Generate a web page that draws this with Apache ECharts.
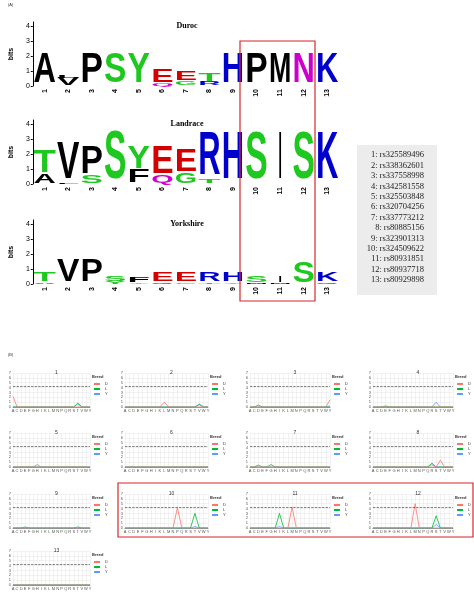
<!DOCTYPE html>
<html><head><meta charset="utf-8">
<script src="https://cdn.jsdelivr.net/npm/echarts@6/dist/echarts.min.js"></script>
<style>html,body{margin:0;padding:0;background:#fff}#main{width:474px;height:595px}</style>
</head><body><div id="main"></div>
<script>
// positions of the logos and the SNP list
var positions = ['1','2','3','4','5','6','7','8','9','10','11','12','13'];
var snpIds = ['rs325589496','rs338362601','rs337558998','rs342581558','rs325503848','rs320704256',
  'rs337773212','rs80885156','rs323901313','rs324509622','rs80931851','rs80937718','rs80929898'];
var breeds = ['Duroc', 'Landrace', 'Yorkshire'];
// letter stacks per position, bottom to top: [letter, bits]
var durocLogo = [
  [['A',2.0]], [['V',0.5],['L',0.15]], [['P',2.0]], [['S',2.0]], [['Y',2.0]],
  [['Q',0.15],['E',0.85]], [['G',0.3],['E',0.6]], [['R',0.3],['T',0.5]], [['H',2.0]],
  [['P',2.0]], [['M',2.0]], [['N',2.0]], [['K',2.0]]
];
var landraceLogo = [
  [['A',0.6],['T',1.5]], [['L',0.1],['V',2.5]], [['S',0.5],['P',1.9]], [['S',3.3]], [['F',0.9],['Y',1.5]],
  [['Q',0.5],['E',1.9]], [['G',0.7],['E',1.5]], [['T',0.3],['R',2.9]], [['H',3.2]],
  [['S',3.2]], [['I',3.2]], [['S',3.2]], [['K',3.2]]
];
var yorkshireLogo = [
  [['A',0.1],['T',0.6]], [['V',1.5]], [['P',1.5]], [['Y',0.15],['S',0.35]], [['Y',0.1],['F',0.35]],
  [['Q',0.1],['E',0.6]], [['G',0.1],['E',0.6]], [['T',0.1],['R',0.6]], [['Y',0.1],['H',0.6]],
  [['M',0.1],['S',0.45]], [['M',0.1],['I',0.45]], [['S',1.4]], [['Q',0.1],['K',0.6]]
];
var letterColor = {A:'#000',V:'#000',L:'#000',P:'#000',M:'#000',F:'#000',I:'#000',
  S:'#1ec81e',Y:'#1ec81e',T:'#1ec81e',G:'#1ec81e',E:'#d40000',R:'#0000cc',H:'#0000cc',K:'#0000cc',
  N:'#cc00cc',Q:'#cc00cc'};

// panel B: amino acids and per-SNP curves (D, L, Y)
var aminoAcids = ['A','C','D','E','F','G','H','I','K','L','M','N','P','Q','R','S','T','V','W','Y'];
var panelD = [
  [2.2,0,0,0,0,0,0,0,0,0,0,0,0,0,0,0,0,0,0,0],
  [0,0,0,0,0,0,0,0,0,1.0,0,0,0,0,0,0,0,0,0,0],
  [0,0,0,0,0,0,0,0,0,0,0,0,0,0,0,0,0,0,0,1.5],
  [0,0,0,0,0,0,0,0,0,0,0,0,0,0,0,0,0,0,0,0],
  [0,0,0,0,0,0,0,0,0,0,0,0,0,0,0,0,0,0,0,0],
  [0,0,0,0,0,0,0,0,0,0,0,0,0,0,0,0,0,0,0,0],
  [0,0,0,0,0,0,0,0,0,0,0,0,0,0,0,0,0,0,0,0],
  [0,0,0,0,0,0,0,0,0,0,0,0,0,0,0,0,1.4,0,0,0],
  [0,0,0,0,0,0,0,0,0,0,0,0,0,0,0,0,0,0,0,0],
  [0,0,0,0,0,0,0,0,0,0,0,0,4.2,0,0,0,0,0,0,0],
  [0,0,0,0,0,0,0,0,0,0,4.3,0,0,0,0,0,0,0,0,0],
  [0,0,0,0,0,0,0,0,0,0,5.0,0,0,0,0,0,0,0,0,0],
  [0,0,0,0,0,0,0,0,0,0,0,0,0,0,0,0,0,0,0,0]
];
var panelL = [
  [0,0,0,0,0,0,0,0,0,0,0,0,0,0,0,0,0.7,0,0,0],
  [0,0,0,0,0,0,0,0,0,0,0,0,0,0,0,0,0,0.5,0,0],
  [0,0,0.4,0,0,0,0,0,0,0,0,0,0,0,0,0,0,0,0,0],
  [0,0,0,0.2,0,0,0,0,0,0,0,0,0,0,0,0,0,0,0,0],
  [0,0,0,0,0,0,0,0,0,0,0,0,0,0,0,0,0,0,0,0],
  [0,0,0,0,0,0,0,0,0,0,0,0,0,0,0,0,0,0,0,0],
  [0,0,0.4,0,0,0.5,0,0,0,0,0,0,0,0,0,0,0,0,0,0],
  [0,0,0,0,0,0,0,0,0,0,0,0,0,0,0.8,0,0,0,0,0],
  [0,0,0,0.2,0,0,0,0,0,0,0,0,0,0,0,0,0.2,0,0,0],
  [0,0,0,0,0,0,0,0,0,0,0,0,0,0,0,0,3.0,0,0,0],
  [0,0,0,0,0,0,0,3.0,0,0,0,0,0,0,0,0,0,0,0,0],
  [0,0,0,0,0,0,0,0,0,0,0,0,0,0,0,2.5,0,0,0,0],
  [0,0,0,0,0,0,0,0,0,0,0,0,0,0,0,0,0,0,0,0]
];
var panelY = [
  [0,0,0,0,0,0,0,0,0,0,0,0,0,0,0,0,0.8,0,0,0],
  [0,0,0,0,0,0,0,0,0,0,0,0,0,0,0,0,0,0.6,0,0],
  [0,0,0,0,0,0,0,0,0,0,0,0,0,0,0,0,0,0,0,0.2],
  [0,0,0,0,0,0,0,0,0,0,0,0,0,0,0,1.0,0,0,0,0],
  [0,0,0,0,0,0,0.5,0,0,0,0,0,0,0,0,0,0,0,0,0],
  [0,0,0,0,0,0,0,0,0,0,0,0,0,0,0,0,0,0,0,0],
  [0,0,0,0,0,0,0,0,0,0,0,0,0,0,0,0,0,0,0,0],
  [0,0,0,0,0,0,0,0,0,0,0,0,0,0,0.5,0,0,0,0,0],
  [0,0,0,0,0,0,0,0,0,0,0,0,0,0,0,0,0,0,0,0],
  [0,0,0,0,0,0,0,0,0,0,0,0,0,0,0,0,0.3,0,0,0],
  [0,0,0,0,0,0,0,0.3,0,0,0,0,0,0,0,0,0,0,0,0],
  [0,0,0,0,0,0,0,0,0,0,0,0,0,0,0,0.7,0,0,0,0],
  [0,0,0,0,0,0,0,0,0,0,0,0,0,0,0,0,0,0,0,0]
];
var refLine = 4.3;

var ctx = document.createElement('canvas').getContext('2d');
var logoFont = 'bold 100px "Liberation Sans", Arial, sans-serif';
ctx.font = logoFont;

function buildLogo(logo) {
  var vals = [], letters = [];
  logo.forEach(function (stack, i) {
    var y = 0;
    stack.forEach(function (s) {
      vals.push([i, y, y + s[1]]);
      letters.push(s[0]);
      y += s[1];
    });
  });
  return { vals: vals, letters: letters };
}

function makeRenderer(letters) {
  return function (params, api) {
    var x = api.value(0);
    var p0 = api.coord([x, api.value(1)]);
    var p1 = api.coord([x, api.value(2)]);
    var h = p0[1] - p1[1];
    var ch = letters[params.dataIndex];
    if (h < 0.5) return { type: 'group', children: [] };
    var w = api.size([1, 0])[0] * 0.95;
    if (ch === 'I') w = w * 0.15;
    var gw = ctx.measureText(ch).width || 70;
    return {
      type: 'text',
      x: p0[0], y: (p0[1] + p1[1]) / 2,
      scaleX: w / gw, scaleY: h / 72,
      style: { text: ch, font: logoFont, fill: letterColor[ch], align: 'center', verticalAlign: 'middle' }
    };
  };
}

var grids = [], xAxes = [], yAxes = [], series = [], titles = [], legends = [];
var logos = [durocLogo, landraceLogo, yorkshireLogo];
var logoZero = [86, 184, 284];
logos.forEach(function (logo, k) {
  var L = buildLogo(logo);
  grids.push({ left: 23, width: 316, top: logoZero[k] - 64, height: 64 });
  xAxes.push({ type: 'category', gridIndex: k, data: positions,
    axisLine: { show: false }, axisTick: { show: false },
    axisLabel: { rotate: 90, fontSize: 7, color: '#000', margin: 3, fontWeight: 'bold' } });
  yAxes.push({ type: 'value', gridIndex: k, min: 0, max: 4.27, interval: 1,
    name: 'bits', nameLocation: 'middle', nameGap: 11, nameRotate: 90,
    nameTextStyle: { fontSize: 7, color: '#000', fontWeight: 'bold' },
    splitLine: { show: false }, axisLine: { show: true, lineStyle: { color: '#000' } },
    axisTick: { show: true, length: 2, lineStyle: { color: '#000' } },
    axisLabel: { fontSize: 7, color: '#000', margin: 3 } });
  series.push({ type: 'custom', xAxisIndex: k, yAxisIndex: k, renderItem: makeRenderer(L.letters),
    encode: { x: 0, y: [1, 2] }, data: L.vals, silent: true });
  titles.push({ text: breeds[k], left: 182, top: logoZero[k] - 69, textAlign: 'center',
    textStyle: { fontSize: 8, fontWeight: 'bold', fontFamily: 'Liberation Serif', color: '#000' } });
});

// panel B small multiples
var colLeft = [13, 125, 250, 373], colWidth = [77, 83, 80, 80];
var rowBottom = [407, 467, 528, 585];
var breedColors = ['#f8766d', '#00ba38', '#619cff'];
var breedNames = ['D', 'L', 'Y'];
for (var p = 0; p < 13; p++) {
  var gi = grids.length;
  var row = Math.floor(p / 4), col = p % 4;
  var gTop = rowBottom[row] - 34;
  grids.push({ left: colLeft[col], width: colWidth[col], top: gTop, height: 34 });
  xAxes.push({ type: 'category', gridIndex: gi, data: aminoAcids, boundaryGap: false,
    axisLine: { lineStyle: { color: '#999' } }, axisTick: { show: false },
    axisLabel: { interval: 0, fontSize: 4, color: '#555', margin: 2 },
    splitLine: { show: true, lineStyle: { color: '#e4e4e4', width: 0.5 } } });
  yAxes.push({ type: 'value', gridIndex: gi, min: 0, max: 7, interval: 1,
    axisLine: { show: false }, axisTick: { show: false },
    axisLabel: { fontSize: 4, color: '#555', margin: 2 },
    splitLine: { lineStyle: { color: '#e4e4e4', width: 0.5 } } });
  [panelD, panelL, panelY].forEach(function (arr, b) {
    var s = { type: 'line', name: breedNames[b], xAxisIndex: gi, yAxisIndex: gi, data: arr[p],
      symbol: 'none', lineStyle: { width: 0.8, color: breedColors[b] }, itemStyle: { color: breedColors[b] },
      silent: true, z: 3 - b };
    if (b === 0) s.markLine = { silent: true, symbol: 'none', label: { show: false },
      lineStyle: { type: 'dashed', color: '#333', width: 0.6 }, data: [{ yAxis: refLine }] };
    series.push(s);
  });
  titles.push({ text: String(p + 1), left: colLeft[col] + colWidth[col] / 2, top: gTop - 8, textAlign: 'center',
    textStyle: { fontSize: 5, fontWeight: 'normal', color: '#333' } });
  titles.push({ text: 'Breed', left: colLeft[col] + colWidth[col] + 2, top: gTop + 2, padding: 0,
    textStyle: { fontSize: 4, fontWeight: 'bold', color: '#333' } });
  legends.push({ orient: 'vertical', left: colLeft[col] + colWidth[col] + 3, top: gTop + 9,
    data: breedNames, itemWidth: 6, itemHeight: 3, itemGap: 1, padding: 0, selectedMode: false,
    textStyle: { fontSize: 4, color: '#333' } });
}

var snpText = snpIds.map(function (s, i) { return (i + 1) + ': ' + s; }).join('\n');

var myChart = echarts.init(document.getElementById('main'));
var option = {
  animation: false,
  title: titles,
  legend: legends,
  grid: grids,
  xAxis: xAxes,
  yAxis: yAxes,
  series: series,
  graphic: [
    { type: 'text', left: 8, top: 3, style: { text: '(A)', fontSize: 4, fill: '#333' } },
    { type: 'text', left: 8, top: 353, style: { text: '(B)', fontSize: 4, fill: '#333' } },
    { type: 'rect', shape: { x: 240, y: 41, width: 75, height: 260 },
      style: { fill: 'none', stroke: '#d62728', lineWidth: 1.2 }, z: 10 },
    { type: 'rect', shape: { x: 357, y: 145, width: 80, height: 150 }, style: { fill: '#ececec' } },
    { type: 'text', x: 424, y: 150, style: { text: snpText, align: 'right', fontSize: 8.5, lineHeight: 10.4,
      fontFamily: 'Liberation Serif', fill: '#222' }, z: 5 },
    { type: 'rect', shape: { x: 118, y: 483, width: 355, height: 54 },
      style: { fill: 'none', stroke: '#d62728', lineWidth: 1.2 }, z: 10 }
  ]
};
myChart.setOption(option);
</script></body></html>
